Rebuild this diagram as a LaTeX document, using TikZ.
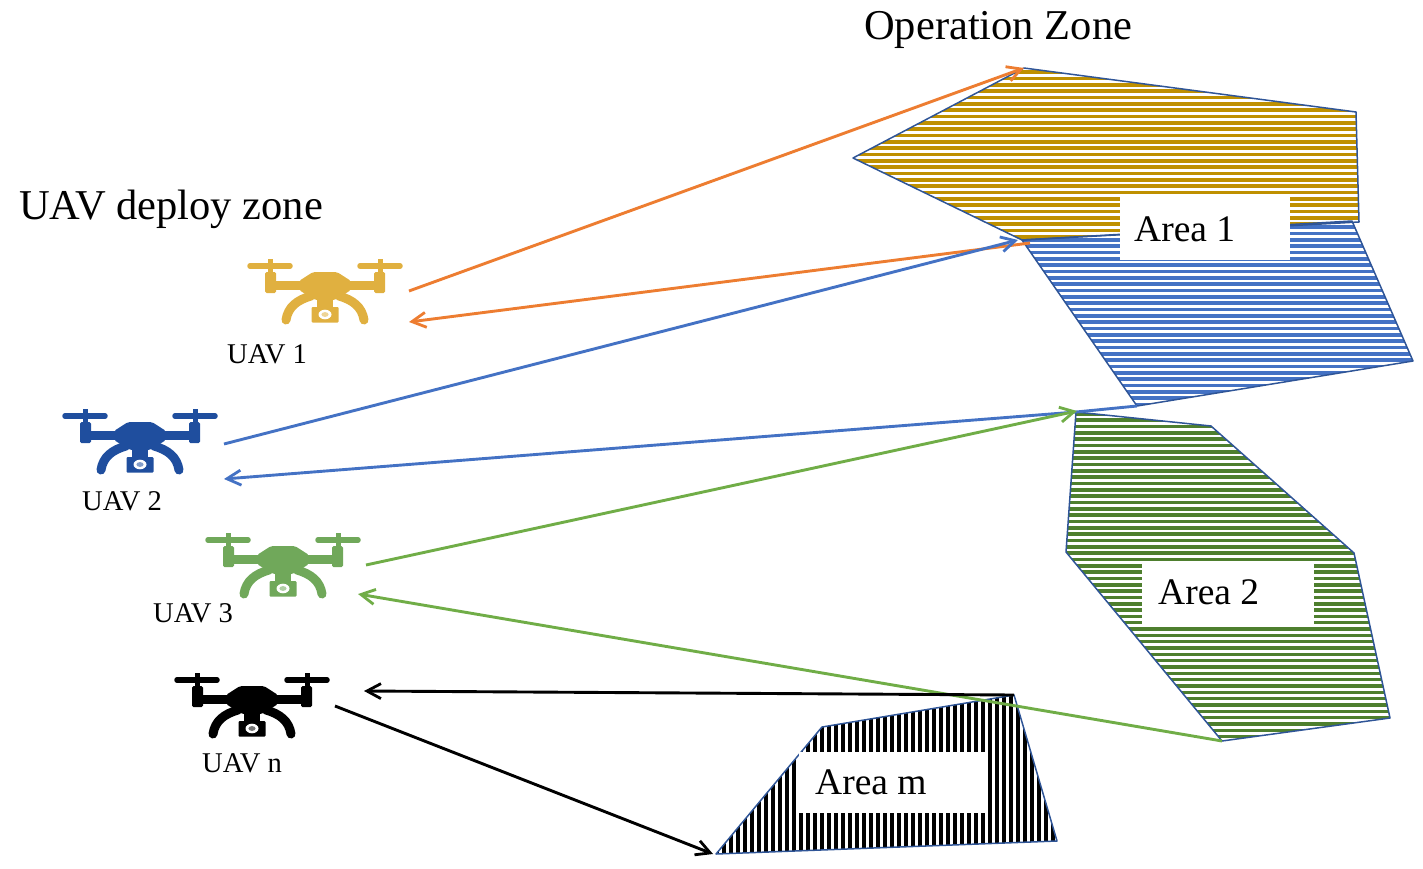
\documentclass[tikz,border=0pt]{standalone}
\usepackage{fontspec}
\setmainfont{Liberation Serif}
\usetikzlibrary{arrows.meta}
\definecolor{uavgold}{HTML}{E0B040}
\definecolor{uavblue}{HTML}{1F4E9E}
\definecolor{uavgreen}{HTML}{70A85A}
\definecolor{lineorange}{HTML}{ED7D31}
\definecolor{lineblue}{HTML}{4472C4}
\definecolor{linegreen}{HTML}{70AD47}
\definecolor{hatchgold}{HTML}{BF9000}
\definecolor{hatchblue}{HTML}{4472C4}
\definecolor{hatchgreen}{HTML}{4E7F2E}
\definecolor{edgeblue}{HTML}{2F5597}
\tikzset{
  x=1pt,y=-1pt,
  flow/.style={line width=2.9pt,-{Straight Barb[length=14pt,width=15pt,line width=2.8pt]}},
  zone/.style={draw=edgeblue,line width=1.5pt,line join=round},
  bigtext/.style={font=\fontsize{42.5}{42.5}\selectfont,inner sep=0pt,text=black},
  areatext/.style={font=\fontsize{37.5}{37.5}\selectfont,inner sep=0pt,text=black},
  uavtext/.style={font=\fontsize{28.6}{28.6}\selectfont,inner sep=0pt,text=black},
}
\newcommand{\hstripes}[5]{% colour, x0, x1, y0, y1
  \foreach \n in {0,...,70}{%
    \pgfmathsetmacro{\ya}{#4+6.33*\n}%
    \pgfmathsetmacro{\yb}{\ya+3.6}%
    \pgfmathparse{\ya<#5?1:0}%
    \ifnum\pgfmathresult=1 \fill[#1] (#2,\ya) rectangle (#3,\yb);\fi
  }}
\newcommand{\uavdrone}[3]{%
\begin{scope}[shift={(#1,#2)},fill=#3,draw=#3]
  % propellers and masts
  \draw[line width=5.5pt,line cap=round] (-75,-27)--(-35,-27) (35,-27)--(75,-27);
  \draw[line width=5pt] (-55,-34)--(-55,-15) (55,-34)--(55,-15);
  % motor blocks
  \fill[rounded corners=1.5pt] (-60,-21) rectangle (-49,0);
  \fill[rounded corners=1.5pt] (49,-21) rectangle (60,0);
  % arms
  \fill (-55,-12) rectangle (55,-3);
  % body
  \fill[rounded corners=2pt] (-12,-21)--(12,-21)--(26,-12)--(26,-3)--(10,7)--(-10,7)--(-26,-3)--(-26,-12)--cycle;
  % legs
  \draw[line width=9pt,line cap=round] (-39,27) .. controls (-37,14) and (-28,7) .. (-14,3);
  \draw[line width=9pt,line cap=round] (39,27) .. controls (37,14) and (28,7) .. (14,3);
  % camera
  \fill (-8,6) rectangle (8,15);
  \fill[rounded corners=1pt] (-13.5,14) rectangle (13.5,29.5);
  \fill[white] (0,21.5) ellipse (6.5pt and 4.8pt);
  \fill[#3!55!white] (0,21.5) ellipse (3.6pt and 2.4pt);
\end{scope}}
\begin{document}
\begin{tikzpicture}
\useasboundingbox (0,0) rectangle (1423,869);
% named polygon corners
\coordinate (g1) at (1024,68);
\coordinate (g2) at (1356,112);
\coordinate (g3) at (1359,222);
\coordinate (g4) at (1022,240);
\coordinate (g5) at (853,158);
\coordinate (b1) at (1022,240);
\coordinate (b2) at (1352,221);
\coordinate (b3) at (1413,361);
\coordinate (b4) at (1137,406);
\coordinate (a1) at (1076,412);
\coordinate (a2) at (1211,426);
\coordinate (a3) at (1354,553);
\coordinate (a4) at (1390,718);
\coordinate (a5) at (1222,741);
\coordinate (a6) at (1066,552);
\coordinate (m1) at (1014,695);
\coordinate (m2) at (1057,841);
\coordinate (m3) at (716,854);
\coordinate (m4) at (822,727);
% hatched areas
\begin{scope}
  \clip (g1)--(g2)--(g3)--(g4)--(g5)--cycle;
  \hstripes{hatchgold}{840}{1370}{64}{245}
\end{scope}
\begin{scope}
  \clip (b1)--(b2)--(b3)--(b4)--cycle;
  \hstripes{hatchblue}{1010}{1420}{219}{410}
\end{scope}
\begin{scope}
  \clip (a1)--(a2)--(a3)--(a4)--(a5)--(a6)--cycle;
  \hstripes{hatchgreen}{1060}{1395}{412}{745}
\end{scope}
\begin{scope}
  \clip (m1)--(m2)--(m3)--(m4)--cycle;
  \foreach \n in {0,...,49}{%
    \pgfmathsetmacro{\xa}{715+7*\n}%
    \pgfmathsetmacro{\xb}{\xa+3.8}%
    \fill[black] (\xa,690) rectangle (\xb,860);}
\end{scope}
\draw[zone] (g1)--(g2)--(g3)--(g4)--(g5)--cycle;
\draw[zone] (b1)--(b2)--(b3)--(b4)--cycle;
\draw[zone] (a1)--(a2)--(a3)--(a4)--(a5)--(a6)--cycle;
\draw[zone] (m1)--(m2)--(m3)--(m4)--cycle;
% area labels
\path[fill=white] (1120,197) rectangle (1290,260);
\path[fill=white] (1142,562) rectangle (1314,627);
\path[fill=white] (799,752) rectangle (986,813);
\node[areatext,anchor=base west] (area1) at (1134,241) {Area 1};
\node[areatext,anchor=base west] (area2) at (1158,604) {Area 2};
\node[areatext,anchor=base west] (aream) at (815,794) {Area m};
% titles
\node[bigtext,anchor=base west] (opzone) at (864,39.5) {Operation Zone};
\node[bigtext,anchor=base west] (deploy) at (19,219) {UAV deploy zone};
% drones
\uavdrone{325}{293}{uavgold}
\uavdrone{140}{443}{uavblue}
\uavdrone{283}{567}{uavgreen}
\uavdrone{252}{707}{black}
\node[uavtext,anchor=base west] (uav1) at (227,363) {UAV 1};
\node[uavtext,anchor=base west] (uav2) at (82,510) {UAV 2};
\node[uavtext,anchor=base west] (uav3) at (153,622) {UAV 3};
\node[uavtext,anchor=base west] (uavn) at (202,772) {UAV n};
% connector ends at the drones
\coordinate (o1) at (409,291);
\coordinate (o2) at (409,322);
\coordinate (o3) at (1030,243);
\coordinate (c1) at (224,444);
\coordinate (c2) at (224,479);
\coordinate (c3) at (1018,240);
\coordinate (e1) at (366,565);
\coordinate (e2) at (358,594);
\coordinate (e3) at (1077,411);
\coordinate (k1) at (335,706);
\coordinate (k2) at (364,691);
\coordinate (k3) at (713,854);
\draw[flow,lineorange] (o1)--(g1);
\draw[flow,lineorange] (o3)--(o2);
\draw[flow,lineblue] (c1)--(c3);
\draw[flow,lineblue] (b4)--(a1)--(c2);
\draw[flow,linegreen] (e1)--(e3);
\draw[flow,linegreen] (a5)--(e2);
\draw[flow,black] (m1)--(k2);
\draw[flow,black] (k1)--(k3);
\end{tikzpicture}
\end{document}
